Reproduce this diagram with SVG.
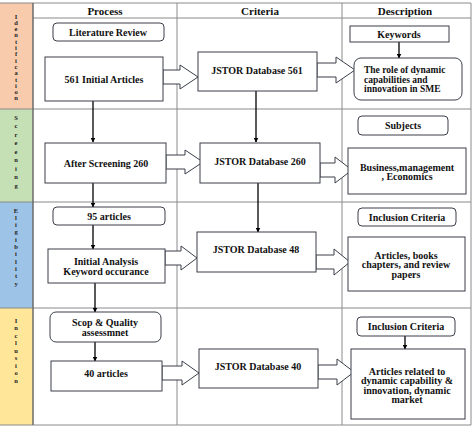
<svg xmlns="http://www.w3.org/2000/svg" width="474" height="428" viewBox="0 0 474 428">
<defs>
<marker id="ah" viewBox="0 0 10 10" refX="9" refY="5" markerWidth="5" markerHeight="5" orient="auto" markerUnits="userSpaceOnUse">
<path d="M0,0 L10,5 L0,10 z" fill="#000"/>
</marker>
<style>
.grid{stroke:#8a8a8a;stroke-width:1;fill:none}
.box{fill:#fff;stroke:#3a3f4a;stroke-width:1}
.t{font-family:"Liberation Serif","Times New Roman",serif;font-weight:bold;font-size:10px;fill:#111;text-anchor:middle;dominant-baseline:central}
.tl{text-anchor:start}
.h{font-size:11px}
.band{font-family:"Liberation Serif","Times New Roman",serif;font-weight:bold;font-size:6.5px;fill:#222;text-anchor:middle;dominant-baseline:central}
.blk{fill:#fff;stroke:#3a3f4a;stroke-width:1}
.ln{stroke:#000;stroke-width:1.3;fill:none}
</style>
</defs>
<rect width="474" height="428" fill="#fff"/>
<!-- bands -->
<rect x="0" y="3" width="33" height="106" fill="#F8CBAD"/>
<rect x="0" y="109" width="33" height="93" fill="#C5E0B4"/>
<rect x="0" y="202" width="33" height="106" fill="#9DC3E6"/>
<rect x="0" y="308" width="33" height="117" fill="#FFE699"/>
<!-- grid -->
<g id="grid">
<line class="grid" x1="0" y1="3" x2="471" y2="3"/>
<line class="grid" x1="0" y1="425" x2="471" y2="425"/>
<line class="grid" x1="33" y1="18" x2="471" y2="18"/>
<line class="grid" x1="0" y1="109" x2="471" y2="109"/>
<line class="grid" x1="0" y1="202" x2="471" y2="202"/>
<line class="grid" x1="0" y1="308" x2="471" y2="308"/>
<line x1="33" y1="3" x2="33" y2="425" stroke="#6b6b6b" stroke-width="1.5"/>
<line class="grid" x1="177" y1="3" x2="177" y2="425"/>
<line class="grid" x1="342" y1="3" x2="342" y2="425"/>
<line class="grid" x1="471" y1="3" x2="471" y2="425"/>
</g>
<!-- headers -->
<g id="headers">
<text class="t h" x="105" y="10.5">Process</text>
<text class="t h" x="260" y="10.5">Criteria</text>
<text class="t h" x="405" y="10.5">Description</text>
</g>
<!-- band labels -->
<g id="band-identification">
<text class="band" x="16" y="16">I</text><text class="band" x="16" y="22.3">d</text><text class="band" x="16" y="28.6">e</text><text class="band" x="16" y="34.9">n</text><text class="band" x="16" y="41.2">t</text><text class="band" x="16" y="47.5">i</text><text class="band" x="16" y="53.8">f</text><text class="band" x="16" y="60.1">i</text><text class="band" x="16" y="66.4">c</text><text class="band" x="16" y="72.7">a</text><text class="band" x="16" y="79">t</text><text class="band" x="16" y="85.3">i</text><text class="band" x="16" y="91.6">o</text><text class="band" x="16" y="97.9">n</text>
</g>
<g id="band-screening">
<text class="band" x="16" y="117">S</text><text class="band" x="16" y="125.5">c</text><text class="band" x="16" y="134">r</text><text class="band" x="16" y="142.5">e</text><text class="band" x="16" y="151">e</text><text class="band" x="16" y="159.5">n</text><text class="band" x="16" y="168">i</text><text class="band" x="16" y="176.5">n</text><text class="band" x="16" y="185">g</text>
</g>
<g id="band-eligibility">
<text class="band" x="16" y="210">E</text><text class="band" x="16" y="217.3">l</text><text class="band" x="16" y="224.6">i</text><text class="band" x="16" y="231.9">g</text><text class="band" x="16" y="239.2">i</text><text class="band" x="16" y="246.5">b</text><text class="band" x="16" y="253.8">i</text><text class="band" x="16" y="261.1">l</text><text class="band" x="16" y="268.4">i</text><text class="band" x="16" y="275.7">t</text><text class="band" x="16" y="283">y</text>
</g>
<g id="band-inclusion">
<text class="band" x="16" y="320">I</text><text class="band" x="16" y="327.5">n</text><text class="band" x="16" y="335">c</text><text class="band" x="16" y="342.5">l</text><text class="band" x="16" y="350">u</text><text class="band" x="16" y="357.5">s</text><text class="band" x="16" y="365">i</text><text class="band" x="16" y="372.5">o</text><text class="band" x="16" y="380">n</text>
</g>
<!-- connectors -->
<g id="connectors">
<line class="ln" x1="93" y1="101" x2="93" y2="142" marker-end="url(#ah)"/>
<line class="ln" x1="256" y1="91" x2="256" y2="142" marker-end="url(#ah)"/>
<line class="ln" x1="399" y1="42" x2="399" y2="58" marker-end="url(#ah)"/>
<line class="ln" x1="93" y1="183" x2="93" y2="207" marker-end="url(#ah)"/>
<line class="ln" x1="258" y1="183" x2="258" y2="232" marker-end="url(#ah)"/>
<line class="ln" x1="93" y1="225" x2="93" y2="249" marker-end="url(#ah)"/>
<line class="ln" x1="95" y1="283" x2="95" y2="312" marker-end="url(#ah)"/>
<line class="ln" x1="95" y1="342" x2="95" y2="361" marker-end="url(#ah)"/>
<line class="ln" x1="405" y1="336" x2="405" y2="349" marker-end="url(#ah)"/>
<path class="blk" d="M163,70 L180,70 L180,65 L198,77 L180,89 L180,84 L163,84 Z"/>
<path class="blk" d="M317,63 L336,63 L336,57 L355,70 L336,83 L336,77 L317,77 Z"/>
<path class="blk" d="M166,155 L185,155 L185,150 L203,162 L185,174 L185,169 L166,169 Z"/>
<path class="blk" d="M320,163 L335,163 L335,157 L352,170 L335,183 L335,177 L320,177 Z"/>
<path class="blk" d="M165,251 L181,251 L181,246 L197,258 L181,270 L181,265 L165,265 Z"/>
<path class="blk" d="M316,255 L334,255 L334,249 L350,262 L334,275 L334,269 L316,269 Z"/>
<path class="blk" d="M162,366 L182,366 L182,361 L199,373 L182,385 L182,380 L162,380 Z"/>
<path class="blk" d="M318,365 L337,365 L337,359 L354,372 L337,385 L337,379 L318,379 Z"/>
</g>
<!-- nodes -->
<g id="literature-review"><rect class="box" x="53" y="23" width="111" height="18" rx="4"/><text class="t" x="108" y="32">Literature Review</text></g>
<g id="initial-articles"><rect class="box" x="45" y="57" width="118" height="44"/><text class="t" x="104" y="79">561 Initial Articles</text></g>
<g id="jstor-561"><rect class="box" x="198" y="52" width="119" height="39"/><text class="t" x="257" y="70">JSTOR Database 561</text></g>
<g id="keywords"><rect class="box" x="350" y="26" width="99" height="16"/><text class="t" x="399" y="34">Keywords</text></g>
<g id="role"><rect class="box" x="354" y="58" width="108" height="42" rx="7"/><text class="t tl" x="364" y="70" style="font-size:9.5px">The role of dynamic</text><text class="t tl" x="364" y="79.5" style="font-size:9.5px">capabilities and</text><text class="t tl" x="364" y="89" style="font-size:9.5px">innovation in SME</text></g>
<g id="after-screening"><rect class="box" x="45" y="143" width="121" height="40"/><text class="t" x="106" y="163">After Screening 260</text></g>
<g id="jstor-260"><rect class="box" x="200" y="143" width="120" height="40"/><text class="t" x="260" y="161">JSTOR Database 260</text></g>
<g id="subjects"><rect class="box" x="358" y="116" width="90" height="19" rx="4"/><text class="t" x="403" y="125">Subjects</text></g>
<g id="business"><rect class="box" x="348" y="148" width="118" height="46"/><text class="t" x="407" y="167">Business,management</text><text class="t" x="407" y="176.5">, Economics</text></g>
<g id="articles-95"><rect class="box" x="53" y="207" width="112" height="18" rx="4"/><text class="t" x="109" y="216">95 articles</text></g>
<g id="initial-analysis"><rect class="box" x="48" y="249" width="117" height="34"/><text class="t" x="106" y="261.5">Initial Analysis</text><text class="t" x="106" y="271">Keyword occurance</text></g>
<g id="jstor-48"><rect class="box" x="197" y="232" width="119" height="40"/><text class="t" x="256" y="249">JSTOR Database 48</text></g>
<g id="inclusion-1"><rect class="box" x="358" y="208" width="98" height="18" rx="4"/><text class="t" x="407" y="217">Inclusion Criteria</text></g>
<g id="articles-books"><rect class="box" x="348" y="237" width="117" height="54"/><text class="t" x="406" y="255">Articles, books</text><text class="t" x="406" y="264.5">chapters, and review</text><text class="t" x="406" y="274">papers</text></g>
<g id="scop"><rect class="box" x="50" y="312" width="111" height="30" rx="6"/><text class="t" x="105" y="322.5">Scop &amp; Quality</text><text class="t" x="105" y="332">assessmnet</text></g>
<g id="articles-40"><rect class="box" x="51" y="361" width="111" height="30"/><text class="t" x="106" y="373">40 articles</text></g>
<g id="jstor-40"><rect class="box" x="199" y="349" width="119" height="39"/><text class="t" x="258" y="366">JSTOR Database 40</text></g>
<g id="inclusion-2"><rect class="box" x="357" y="317" width="98" height="19" rx="4"/><text class="t" x="406" y="326">Inclusion Criteria</text></g>
<g id="articles-related"><rect class="box" x="351" y="349" width="114" height="70"/><text class="t" x="407" y="371">Articles related to</text><text class="t" x="407" y="380.5">dynamic capability &amp;</text><text class="t" x="407" y="390">innovation, dynamic</text><text class="t" x="407" y="399.5">market</text></g>
</svg>
